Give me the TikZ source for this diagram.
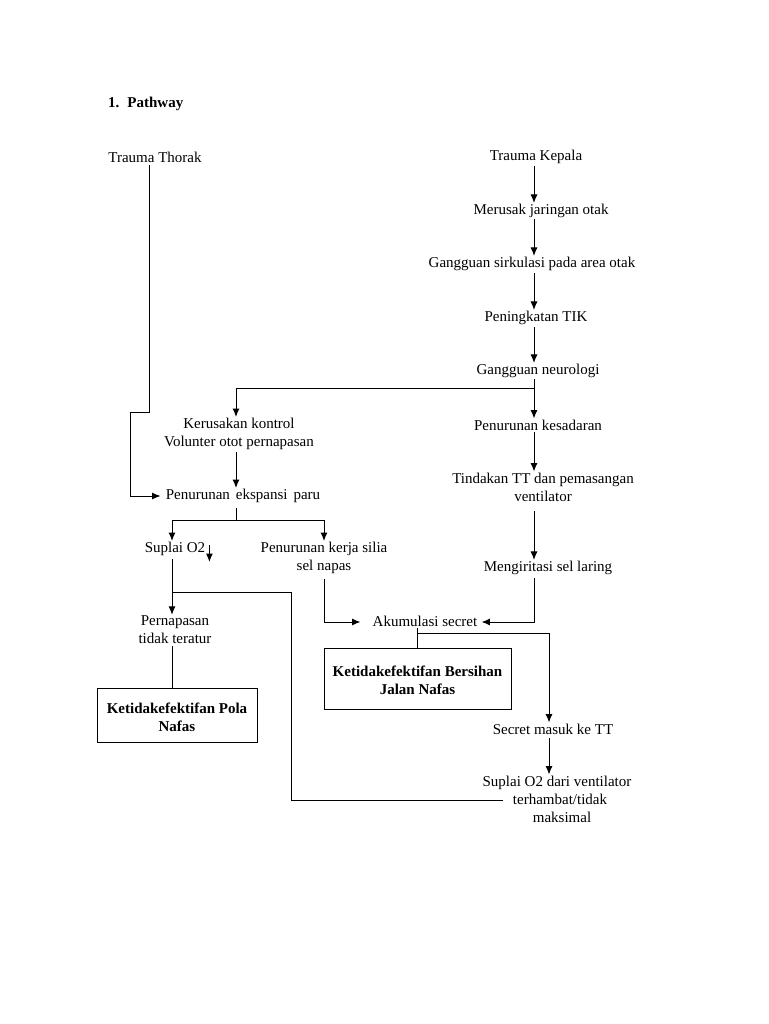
\documentclass[tikz,border=0pt]{standalone}
\usepackage{fontspec}
\setmainfont{Liberation Serif}
\usetikzlibrary{arrows.meta}
\begin{document}
\begin{tikzpicture}[x=1pt,y=-1pt,
  every node/.style={font=\fontsize{15}{18}\selectfont, inner sep=1pt, align=center},
  ln/.style={line width=1pt, draw=black},
  arr/.style={ln, -{Latex[length=8.5pt,width=7pt]}},
  boxnode/.style={draw=black, line width=1pt, inner sep=0pt, font=\fontsize{15}{18}\selectfont\bfseries}]
\useasboundingbox (0,0) rectangle (768,1024);
\fill[white] (0,0) rectangle (768,1024);

\node[anchor=west, font=\fontsize{15}{18}\selectfont\bfseries] (title) at (107,104) {1.\hspace{8pt}Pathway};

\node (tt) at (155,157) {Trauma Thorak};
\node (tk) at (536,157) {Trauma Kepala};
\node (mj) at (541,211) {Merusak jaringan otak};
\node (gs) at (532,264) {Gangguan sirkulasi pada area otak};
\node (tik) at (536,318) {Peningkatan TIK};
\node (gn) at (538,371) {Gangguan neurologi};
\node (pk) at (538,425) {Penurunan kesadaran};
\node (tind) at (543,487) {Tindakan TT dan pemasangan\\ventilator};
\node (mg) at (548,568) {Mengiritasi sel laring};
\node (kk) at (239,434) {Kerusakan kontrol\\Volunter otot pernapasan};
\node (pe) at (243,496) {Penurunan\hspace{6pt}ekspansi\hspace{6pt}paru};
\node (so) at (175,549) {Suplai O2};
\node (pks) at (324,558) {Penurunan kerja silia\\sel napas};
\node (pn) at (175,630) {Pernapasan\\tidak teratur};
\node (ak) at (425,621) {Akumulasi secret};
\node[boxnode, minimum width=187pt, minimum height=61pt] (bx1) at (417.5,678.5) {\raisebox{-3pt}[\height][\depth]{\begin{tabular}{@{}c@{}}Ketidakefektifan Bersihan\\Jalan Nafas\end{tabular}}};
\node[boxnode, minimum width=160pt, minimum height=54pt] (bx2) at (177,715.5) {\raisebox{-3pt}[\height][\depth]{\begin{tabular}{@{}c@{}}Ketidakefektifan Pola\\Nafas\end{tabular}}};
\node (sm) at (553,729) {Secret masuk ke TT};
\node (sov) at (557,799) {Suplai O2 dari ventilator\\\hspace{6pt}terhambat/tidak\\\hspace{10pt}maksimal};

% column coordinates
\coordinate (cR) at (534,0);
\coordinate (cL) at (149,0);
\coordinate (cK) at (236,0);
\coordinate (cS) at (172,0);
\coordinate (cP) at (324,0);
\coordinate (cA) at (417,0);
\coordinate (cM) at (549,0);
\coordinate (j1) at (534,388);
\coordinate (j2) at (236,520);
\coordinate (j3) at (172,592);
\coordinate (j4) at (417,633);
\coordinate (e1) at (503,800);

% right chain
\draw[arr, shorten <=1pt] (cR |- tk.south) -- (cR |- mj.north);
\draw[arr] (cR |- mj.south) -- (cR |- gs.north);
\draw[arr, shorten <=1pt] (cR |- gs.south) -- (cR |- tik.north);
\draw[arr, shorten <=1pt] (cR |- tik.south) -- (cR |- gn.north);
\draw[arr] (cR |- gn.south) -- (cR |- pk.north);
\draw[arr, shorten <=1pt] (cR |- pk.south) -- (cR |- tind.north);
\draw[arr, shorten <=9pt] (cR |- tind.south) -- (cR |- mg.north);
\draw[arr, shorten <=2pt, shorten >=3pt] (cR |- mg.south) |- ([yshift=-1pt]ak.east);

% neurologi branch
\draw[arr] (j1) -| (cK |- kk.north);
\draw[arr, shorten <=1pt] (cK |- kk.south) -- (cK |- pe.north);

% trauma thorak
\draw[arr, shorten <=2pt, shorten >=4pt] (cL |- tt.south) -- (149,412) -- (130,412) |- (pe.west);

% split
\draw[ln, shorten <=4pt] (cK |- pe.south) -- (j2);
\draw[arr] (j2) -| (cS |- so.north);
\draw[arr] (j2) -| (cP |- pks.north);

% suplai O2 small arrow
\draw[arr] ([xshift=3pt,yshift=-4pt]so.north east) -- ([xshift=3pt,yshift=-5pt]so.south east);

\draw[arr, shorten <=2pt] (cS |- so.south) -- (cS |- pn.north);
\draw[ln] (j3) -- (291,592) -- (291,800) -- (e1);

\draw[arr, shorten <=4pt] (cP |- pks.south) |- ([xshift=-11pt,yshift=-1pt]ak.west);

\draw[ln, shorten <=1pt] (cS |- pn.south) -- (cS |- bx2.north);
\draw[ln, shorten <=1pt] (cA |- ak.south) -- (cA |- bx1.north);
\draw[arr] (j4) -| (cM |- sm.north);
\draw[arr, shorten <=3pt] (cM |- sm.south) -- (cM |- sov.north);
\end{tikzpicture}
\end{document}
